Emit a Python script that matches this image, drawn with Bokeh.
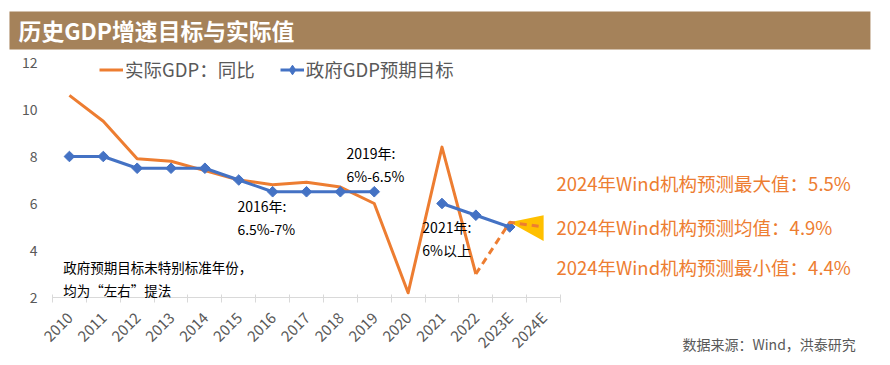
import math
from bokeh.plotting import figure
from bokeh.models import (Range1d, FixedTicker, Label, BoxAnnotation, Legend, LegendItem)
from bokeh.embed import file_html
from bokeh.resources import INLINE

# ---------------- data ----------------
years = ["2010", "2011", "2012", "2013", "2014", "2015", "2016", "2017",
         "2018", "2019", "2020", "2021", "2022", "2023E", "2024E"]
gdp_actual = [10.6, 9.5, 7.9, 7.8, 7.4, 7.0, 6.8, 6.9, 6.7, 6.0, 2.2, 8.4, 3.0]   # 2010-2022
gdp_forecast = [3.0, 5.2, 5.0]                                                   # 2022, 2023E, 2024E
gov_target = [8.0, 8.0, 7.5, 7.5, 7.5, 7.0, 6.5, 6.5, 6.5, 6.5,
              float("nan"), 6.0, 5.5, 5.0]                                       # 2010-2023E
wind_max_2024 = 5.5
wind_mean_2024 = 4.9
wind_min_2024 = 4.4
y_ticks = [2, 4, 6, 8, 10, 12]

ORANGE = "#ED7D31"
BLUE = "#4472C4"
YELLOW = "#FFC000"
GREY = "#595959"
FONT = "Noto Sans CJK SC"

idx = list(range(len(years)))

# frame covers the whole canvas; axes are pinned with fixed_location
p = figure(width=874, height=360, x_range=Range1d(-2.035, 23.77), y_range=Range1d(-0.681, 14.638),
           output_backend="svg", toolbar_location=None,
           min_border_left=0, min_border_right=0, min_border_top=0, min_border_bottom=0)
p.title.visible = False
p.xgrid.visible = False
p.ygrid.visible = False
p.outline_line_color = None
p.background_fill_color = "white"
p.border_fill_color = "white"

# x axis
xa = p.xaxis[0]
xa.fixed_location = 2
xa.bounds = (-0.5, 14.5)
xa.ticker = FixedTicker(ticks=idx, minor_ticks=[i - 0.5 for i in range(len(years) + 1)])
xa.major_label_overrides = {i: y for i, y in enumerate(years)}
xa.major_label_orientation = math.pi / 4
xa.major_tick_line_color = None
xa.major_tick_in = 0
xa.major_tick_out = 0
xa.minor_tick_line_color = "#D9D9D9"
xa.minor_tick_in = 3
xa.minor_tick_out = 5
xa.axis_line_color = "#D9D9D9"
xa.major_label_text_color = GREY
xa.major_label_text_font = FONT
xa.major_label_text_font_size = "15px"
xa.major_label_standoff = 12

# y axis
ya = p.yaxis[0]
ya.fixed_location = -0.5
ya.bounds = (2, 12)
ya.ticker = FixedTicker(ticks=y_ticks)
ya.axis_line_color = None
ya.major_tick_line_color = None
ya.minor_tick_line_color = None
ya.major_tick_out = 0
ya.major_tick_in = 0
ya.major_label_standoff = 15
ya.major_label_text_color = GREY
ya.major_label_text_font = FONT
ya.major_label_text_font_size = "14px"

# title bar
p.add_layout(BoxAnnotation(left=-1.77, right=23.65, top=14.17, bottom=12.55,
                           fill_color="#A5825A", fill_alpha=1, line_color=None))
p.add_layout(Label(x=-1.50, y=13.36, text="历史GDP增速目标与实际值", text_color="white",
                   text_font=FONT, text_font_size="22.8px", text_font_style="bold",
                   text_baseline="middle"))

# glyphs
r_actual = p.line(idx[:len(gdp_actual)], gdp_actual, color=ORANGE, line_width=3, line_join="round")
r_target = p.line(idx[:len(gov_target)], gov_target, color=BLUE, line_width=3, line_join="round")
r_pts = p.scatter(idx[:len(gov_target)], gov_target, marker="square", size=7.5, angle=math.pi / 4,
                  color=BLUE)
p.patch([idx[13], idx[14], idx[14]], [gdp_forecast[1], wind_max_2024, wind_min_2024],
        color=YELLOW, line_color=None)
p.line(idx[12:15], gdp_forecast, color=ORANGE, line_width=3, line_dash="7 5")
# legend-only diamond symbol (no data of its own)
r_legend_mark = p.scatter([float("nan")], [float("nan")], marker="diamond", color=BLUE)

legend = Legend(items=[LegendItem(label="实际GDP：同比", renderers=[r_actual]),
                       LegendItem(label="政府GDP预期目标", renderers=[r_target, r_legend_mark])],
                orientation="horizontal", location=(99, 278),
                label_text_font=FONT, label_text_font_size="18.5px", label_text_color=GREY,
                glyph_width=24, glyph_height=25, label_height=25, label_standoff=2,
                spacing=25, padding=0, margin=0,
                border_line_color=None, background_fill_alpha=0)
p.add_layout(legend, "center")


def note(x, y, text, size="14px", color="black"):
    p.add_layout(Label(x=x, y=y, text=text, text_color=color, text_font=FONT,
                       text_font_size=size, text_baseline="middle", text_align="left",
                       text_line_height=1.15))


note(4.96, 5.40, "2016年:\n6.5%-7%")
note(8.18, 7.68, "2019年:\n6%-6.5%")
note(10.42, 4.51, "2021年:\n6%以上")
note(-0.18, 2.79, "政府预期目标未特别标准年份，\n均为“左右”提法", size="13.5px")

note(14.38, 6.88, f"2024年Wind机构预测最大值：{wind_max_2024}%", size="18.5px", color=ORANGE)
note(14.38, 5.01, f"2024年Wind机构预测均值：{wind_mean_2024}%", size="18.5px", color=ORANGE)
note(14.38, 3.31, f"2024年Wind机构预测最小值：{wind_min_2024}%", size="18.5px", color=ORANGE)

note(18.1, 0.04, "数据来源：Wind，洪泰研究", size="14px", color=GREY)

open("out.html", "w").write(file_html(p, INLINE))
